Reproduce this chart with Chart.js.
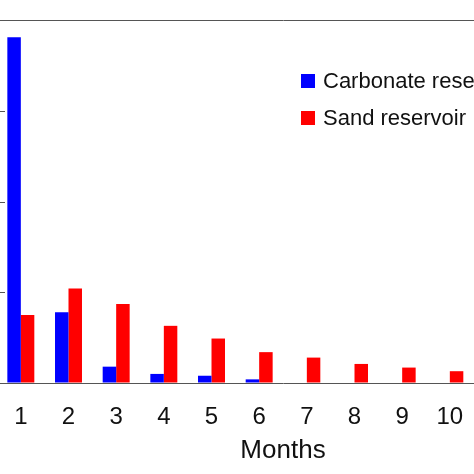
<!DOCTYPE html>
<html>
<head>
<meta charset="utf-8">
<script src="https://cdn.jsdelivr.net/npm/chart.js@4"></script>
<style>
  html, body { margin: 0; padding: 0; background: #fff; overflow: hidden; }
  #frame { position: relative; width: 474px; height: 474px; overflow: hidden; }
  #wrap { position: absolute; left: -40px; top: 0; width: 620px; height: 474px; }
  #legend { position: absolute; left: 301px; top: 66px; font-family: "Liberation Sans", Arial, sans-serif; font-size: 22px; color: #111; white-space: nowrap; }
  .item { display: flex; align-items: center; height: 29px; margin-bottom: 8px; }
  .swatch { width: 14px; height: 14px; margin-right: 8px; }
</style>
</head>
<body>
<div id="frame">
  <div id="wrap"><canvas id="chart"></canvas></div>
  <div id="legend"></div>
</div>
<script>
const months = [1, 2, 3, 4, 5, 6, 7, 8, 9, 10];
const carbonate = [3.81, 0.78, 0.18, 0.1, 0.08, 0.04, 0, 0, 0, 0];
const sand = [0.75, 1.04, 0.87, 0.63, 0.49, 0.34, 0.28, 0.21, 0.17, 0.13];
const seriesNames = ["Carbonate reservoir", "Sand reservoir"];
const seriesColors = ["#0000ff", "#ff0000"];

const axisColor = "#555";

// inward tick marks on the left axis, like the original plot
const innerTicks = {
  id: "innerTicks",
  afterDraw(chart) {
    const { ctx, chartArea, scales } = chart;
    ctx.save();
    ctx.strokeStyle = axisColor;
    ctx.lineWidth = 1;
    scales.y.ticks.forEach((t) => {
      const y = Math.round(scales.y.getPixelForValue(t.value)) + 0.5;
      ctx.beginPath();
      ctx.moveTo(chartArea.left, y);
      ctx.lineTo(chartArea.left + 8, y);
      ctx.stroke();
    });
    ctx.restore();
  },
};

const chart = new Chart(document.getElementById("chart"), {
  type: "bar",
  data: {
    datasets: [
      {
        label: seriesNames[0],
        data: months.map((m, i) => ({ x: m, y: carbonate[i] })),
        backgroundColor: seriesColors[0],
      },
      {
        label: seriesNames[1],
        data: months.map((m, i) => ({ x: m, y: sand[i] })),
        backgroundColor: seriesColors[1],
      },
    ],
  },
  options: {
    responsive: true,
    maintainAspectRatio: false,
    animation: false,
    categoryPercentage: 0.566,
    barPercentage: 1.0,
    layout: { padding: { left: 37, right: 11, top: 20, bottom: 4 } },
    plugins: { legend: { display: false }, tooltip: { enabled: false } },
    scales: {
      x: {
        type: "linear",
        offset: false,
        min: 0.5,
        max: 12.5,
        afterBuildTicks(scale) {
          scale.ticks = months.map((m) => ({ value: m }));
        },
        grid: { display: false, drawTicks: false },
        border: { display: true, color: axisColor, width: 1 },
        ticks: {
          padding: 20,
          maxRotation: 0,
          color: "#111",
          font: { family: "Liberation Sans", size: 24 },
          callback: (v) => String(v),
        },
        title: {
          display: true,
          text: "Months",
          color: "#111",
          padding: { top: -17, bottom: 4 },
          font: { family: "Liberation Sans", size: 26 },
        },
      },
      y: {
        min: 0,
        max: 4,
        ticks: { display: false, stepSize: 1 },
        grid: {
          drawTicks: false,
          color: (c) => (c.tick && c.tick.value === 4 ? axisColor : "transparent"),
        },
        border: { display: true, color: axisColor },
      },
    },
  },
  plugins: [innerTicks],
});

const legend = document.getElementById("legend");
chart.data.datasets.forEach((ds) => {
  const item = document.createElement("div");
  item.className = "item";
  const sw = document.createElement("span");
  sw.className = "swatch";
  sw.style.background = ds.backgroundColor;
  const txt = document.createElement("span");
  txt.textContent = ds.label;
  item.append(sw, txt);
  legend.append(item);
});
</script>
</body>
</html>
